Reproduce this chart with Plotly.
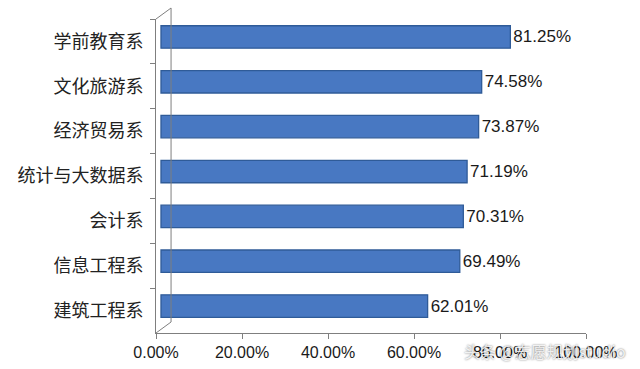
import plotly.graph_objects as go

categories = ["学前教育系", "文化旅游系", "经济贸易系", "统计与大数据系", "会计系", "信息工程系", "建筑工程系"]
values = [0.8125, 0.7458, 0.7387, 0.7119, 0.7031, 0.6949, 0.6201]
labels = ["81.25%", "74.58%", "73.87%", "71.19%", "70.31%", "69.49%", "62.01%"]
tick_vals = [0, 0.2, 0.4, 0.6, 0.8, 1.0]
tick_text = ["0.00%", "20.00%", "40.00%", "60.00%", "80.00%", "100.00%"]

fig = go.Figure()
# invisible trace that carries the front axes (ticks / labels)
fig.add_trace(go.Bar(
    y=categories, x=values, orientation="h", width=0.5,
    marker=dict(color="rgba(0,0,0,0)", line=dict(width=0)),
    hoverinfo="skip", showlegend=False,
))
# visible bars, drawn at mid-depth of the pseudo-3D box (slightly shifted axes)
fig.add_trace(go.Bar(
    y=categories, x=values, orientation="h", xaxis="x2", yaxis="y2",
    marker=dict(color="#4878c2", line=dict(color="#2f5b98", width=1.3)),
    width=0.5,
    text=labels, textposition="outside", cliponaxis=False,
    textfont=dict(family="Liberation Sans, Arial", size=17, color="#1a1a1a"),
))

fig.update_layout(
    width=640, height=369,
    margin=dict(l=156, r=54, t=19, b=36, autoexpand=False),
    paper_bgcolor="white", plot_bgcolor="white",
    showlegend=False,
    font=dict(family="Noto Sans CJK SC", color="#222"),
    xaxis=dict(range=[0, 1.0], tickvals=tick_vals, ticktext=tick_text, automargin=False,
               showgrid=False, zeroline=False, showline=True, linecolor="#7f7f7f",
               linewidth=1, ticks="outside", ticklen=5, tickcolor="#7f7f7f",
               tickfont=dict(family="Liberation Sans, Arial", size=16, color="#1a1a1a")),
    yaxis=dict(type="category", categoryarray=categories, range=[6.5, -0.5],
               showgrid=False, showline=True, linecolor="#7f7f7f",
               linewidth=1, ticks="outside", ticklen=5, tickcolor="#7f7f7f", automargin=False,
               tickson="boundaries", ticklabelstandoff=8,
               tickfont=dict(family="Noto Sans CJK SC", size=18, color="#222")),
    xaxis2=dict(overlaying="x", range=[-0.0116, 0.9884], visible=False, fixedrange=True),
    yaxis2=dict(overlaying="y", type="category", categoryarray=categories,
                range=[6.6, -0.4], visible=False, fixedrange=True),
)

# 3D wall edges
fig.add_shape(type="line", xref="x domain", yref="y domain", x0=0.035, x1=0.035, y0=0.035, y1=1.035,
              line=dict(color="#7f7f7f", width=1))
fig.add_shape(type="line", xref="x domain", yref="y domain", x0=0, x1=0.035, y0=0, y1=0.035,
              line=dict(color="#7f7f7f", width=1))
fig.add_shape(type="line", xref="x domain", yref="y domain", x0=0, x1=0.035, y0=1.0, y1=1.035,
              line=dict(color="#7f7f7f", width=1))

fig.add_annotation(text="头条 @志愿规划studio", xref="paper", yref="paper", x=1.098, y=-0.057,
                   xanchor="right", yanchor="middle", showarrow=False,
                   font=dict(family="Noto Sans CJK SC", size=16, color="rgba(255,255,255,0.85)",
                             shadow="0px 0px 2px rgba(0,0,0,0.7)"))

fig.write_html("out.html", config={"displayModeBar": False},
               post_script="document.body.style.margin='0';document.body.style.overflow='hidden';")
